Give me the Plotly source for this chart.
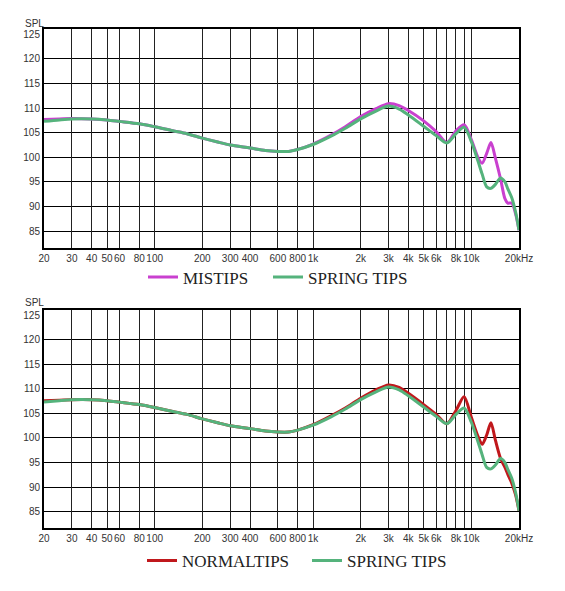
import plotly.graph_objects as go
from plotly.subplots import make_subplots

# frequency grid (Hz) shared by all curves
freq = [20, 25, 30, 40, 50, 60, 80, 100, 130, 160, 200, 250, 300, 400, 500,
        600, 700, 800, 1000, 1300, 1600, 2000, 2500, 3000, 3500, 4000, 5000,
        6000, 7000, 8000, 9000, 10000, 11000, 11700, 12500, 13300, 14200,
        15300, 16300, 17000, 18000, 19000, 20000]

spring_tips = [107.3, 107.6, 107.8, 107.8, 107.6, 107.3, 106.8, 106.2, 105.4,
               104.8, 103.9, 103.1, 102.5, 101.9, 101.4, 101.2, 101.2, 101.6,
               102.6, 104.3, 105.9, 107.8, 109.4, 110.4, 109.8, 108.6, 106.3,
               104.4, 102.9, 104.8, 106.1, 103.2, 99.3, 96.6, 94.0, 93.7, 94.5,
               95.8, 95.0, 93.6, 91.8, 89.0, 85.2]

mistips = [107.7, 107.8, 107.9, 107.8, 107.6, 107.3, 106.8, 106.2, 105.4,
           104.8, 103.9, 103.1, 102.5, 101.9, 101.4, 101.2, 101.2, 101.6,
           102.7, 104.5, 106.2, 108.3, 109.9, 110.9, 110.5, 109.5, 107.4,
           105.2, 103.0, 105.4, 106.6, 103.6, 100.0, 98.8, 100.8, 103.0, 99.8,
           95.6, 91.6, 90.7, 90.7, 88.6, 85.2]

normaltips = [107.6, 107.7, 107.8, 107.8, 107.6, 107.3, 106.8, 106.2, 105.4,
              104.8, 103.9, 103.1, 102.5, 101.9, 101.4, 101.2, 101.2, 101.6,
              102.7, 104.5, 106.1, 108.1, 109.8, 110.8, 110.3, 109.1, 106.8,
              104.8, 102.9, 105.6, 108.4, 104.2, 100.4, 98.7, 100.6, 103.1,
              99.5, 95.8, 94.0, 92.6, 90.8, 88.5, 85.2]

x_ticks = [20, 30, 40, 50, 60, 80, 100, 200, 300, 400, 600, 800, 1000, 2000,
           3000, 4000, 5000, 6000, 8000, 10000, 20000]
x_labels = ["20", "30", "40", "50", "60", "80", "100", "200", "300", "400",
            "600", "800", "1k", "2k", "3k", "4k", "5k", "6k", "8k", "10k",
            "20kHz"]
x_extra_grid = [7000, 9000]
y_ticks = [85, 90, 95, 100, 105, 110, 115, 120, 125]

MAGENTA = "#c940cf"
GREEN = "#55b37c"
RED = "#c0181c"


def curve(y, name, color, legend):
    return go.Scatter(x=freq, y=y, name=name, mode="lines", legend=legend,
                      showlegend=True,
                      line=dict(color=color, width=3, shape="spline", smoothing=0.8))


fig = make_subplots(rows=2, cols=1, vertical_spacing=0.125)
fig.add_trace(curve(mistips, "MISTIPS", MAGENTA, "legend"), row=1, col=1)
fig.add_trace(curve(spring_tips, "SPRING TIPS", GREEN, "legend2"), row=1, col=1)
fig.add_trace(curve(normaltips, "NORMALTIPS", RED, "legend3"), row=2, col=1)
fig.add_trace(curve(spring_tips, "SPRING TIPS", GREEN, "legend4"), row=2, col=1)

tick_font = dict(family="Liberation Sans, Arial, sans-serif", size=10, color="#333")

for r in (1, 2):
    fig.update_xaxes(type="log", range=[1.30103, 4.30103],
                     tickvals=x_ticks, ticktext=x_labels, tickfont=tick_font,
                     tickangle=0, automargin=False,
                     showgrid=True, gridcolor="#222", gridwidth=1,
                     minor=dict(tickvals=x_extra_grid, showgrid=True,
                                gridcolor="#222", gridwidth=1),
                     showline=True, linecolor="black", linewidth=2, mirror=True,
                     zeroline=False, ticks="", row=r, col=1)
    fig.update_yaxes(range=[81.66, 126.06], tickvals=y_ticks, tickfont=tick_font,
                     automargin=False, showgrid=False,
                     minor=dict(tickvals=y_ticks[:-1], showgrid=True,
                                gridcolor="black", gridwidth=1),
                     showline=True, linecolor="black", linewidth=2, mirror=True,
                     zeroline=False, ticks="", row=r, col=1)

fig.update_layout(yaxis=dict(domain=[0.5619, 1.0]),
                  yaxis2=dict(domain=[0.0, 0.4368]))

legend_font = dict(family="Liberation Serif, Times New Roman, serif", size=17, color="#222")


def legend_at(left_px, y):
    # left_px is the page position; paper x is relative to the plot area at 44px
    return dict(orientation="h", x=(left_px - 44) / 475, xanchor="left", y=y,
                yanchor="middle", font=legend_font, bgcolor="rgba(0,0,0,0)")


# the page body adds an 8px offset, so the figure is 8px smaller than the window
fig.update_layout(
    width=557, height=583,
    margin=dict(l=36, r=46, t=21, b=56),
    paper_bgcolor="white", plot_bgcolor="white",
    showlegend=True,
    legend=legend_at(143, 0.502),
    legend2=legend_at(268, 0.502),
    legend3=legend_at(142, -0.066),
    legend4=legend_at(307, -0.066),
    annotations=[
        dict(text="SPL", xref="paper", yref="paper", x=-0.019, y=1.012,
             showarrow=False, font=tick_font, xanchor="center", yanchor="middle"),
        dict(text="SPL", xref="paper", yref="paper", x=-0.019, y=0.451,
             showarrow=False, font=tick_font, xanchor="center", yanchor="middle"),
    ],
)

fig.write_html("out.html")
